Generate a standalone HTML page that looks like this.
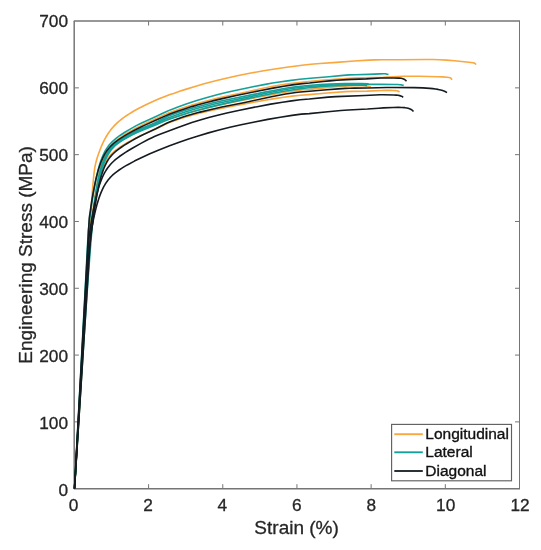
<!DOCTYPE html>
<html lang="en"><head><meta charset="utf-8"><title>Engineering Stress vs Strain</title>
<style>html,body{margin:0;padding:0;background:#fff}body{width:541px;height:550px;overflow:hidden}svg{display:block}</style>
</head><body>
<svg width="541" height="550" viewBox="0 0 541 550">
<rect x="0" y="0" width="541" height="550" fill="#ffffff"/>
<g stroke="#757575" fill="none">
<line x1="73.80" y1="21.05" x2="520.00" y2="21.05" stroke-width="1.5"/>
<line x1="73.80" y1="488.85" x2="520.00" y2="488.85" stroke-width="1.5"/>
<line x1="74.2" y1="21.05" x2="74.2" y2="488.7" stroke-width="1.5"/>
<line x1="519.5" y1="21.05" x2="519.5" y2="488.7" stroke-width="1.0"/>
</g>
<g stroke="#757575" stroke-width="1" fill="none">
<line x1="148.58" y1="488.7" x2="148.58" y2="484.2"/>
<line x1="148.58" y1="21.05" x2="148.58" y2="25.55"/>
<line x1="222.77" y1="488.7" x2="222.77" y2="484.2"/>
<line x1="222.77" y1="21.05" x2="222.77" y2="25.55"/>
<line x1="296.95" y1="488.7" x2="296.95" y2="484.2"/>
<line x1="296.95" y1="21.05" x2="296.95" y2="25.55"/>
<line x1="371.13" y1="488.7" x2="371.13" y2="484.2"/>
<line x1="371.13" y1="21.05" x2="371.13" y2="25.55"/>
<line x1="445.32" y1="488.7" x2="445.32" y2="484.2"/>
<line x1="445.32" y1="21.05" x2="445.32" y2="25.55"/>
<line x1="74.4" y1="421.89" x2="78.9" y2="421.89"/>
<line x1="519.5" y1="421.89" x2="515.0" y2="421.89"/>
<line x1="74.4" y1="355.09" x2="78.9" y2="355.09"/>
<line x1="519.5" y1="355.09" x2="515.0" y2="355.09"/>
<line x1="74.4" y1="288.28" x2="78.9" y2="288.28"/>
<line x1="519.5" y1="288.28" x2="515.0" y2="288.28"/>
<line x1="74.4" y1="221.47" x2="78.9" y2="221.47"/>
<line x1="519.5" y1="221.47" x2="515.0" y2="221.47"/>
<line x1="74.4" y1="154.66" x2="78.9" y2="154.66"/>
<line x1="519.5" y1="154.66" x2="515.0" y2="154.66"/>
<line x1="74.4" y1="87.86" x2="78.9" y2="87.86"/>
<line x1="519.5" y1="87.86" x2="515.0" y2="87.86"/>
</g>
<g fill="none" stroke-width="1.6" stroke-linejoin="round" stroke-linecap="butt"><path d="M74.50,488.60 L88.34,250.00 L90.18,221.78 L91.69,200.18 L92.85,185.27 L93.82,175.11 L94.31,171.01 L94.80,167.70 L95.35,164.82 L96.02,161.95 L96.97,158.59 L98.29,154.51 L99.66,150.67 L101.16,146.86 L102.57,143.65 L104.02,140.62 L105.54,137.77 L107.18,134.99 L108.81,132.51 L110.57,130.10 L112.46,127.77 L114.41,125.61 L116.42,123.59 L118.56,121.64 L120.83,119.75 L123.30,117.85 L125.97,115.96 L128.82,114.09 L131.85,112.23 L135.22,110.29 L138.91,108.28 L142.94,106.21 L146.95,104.25 L151.30,102.22 L155.64,100.29 L160.31,98.32 L164.97,96.43 L169.97,94.51 L173.62,93.43 L179.60,91.36 L185.57,89.38 L194.19,86.70 L204.11,83.84 L215.67,80.79 L227.21,77.99 L238.41,75.53 L250.91,73.06 L263.71,70.78 L274.87,68.98 L286.67,67.25 L304.03,64.99 L310.90,64.21 L320.06,63.45 L336.40,62.36 L354.37,61.07 L368.73,60.17 L374.93,59.89 L382.43,59.78 L399.39,59.81 L425.47,59.48 L432.97,59.53 L439.48,59.75 L446.65,60.15 L454.47,60.71 L459.35,61.18 L471.08,62.45 L473.03,62.77 L474.34,63.12 L474.99,63.52 L476.20,64.50" stroke="#f9a73e"/>
<path d="M74.50,488.60 L87.07,264.07 L87.99,253.82 L89.50,239.29 L90.76,227.91 L92.01,217.51 L93.20,208.25 L94.44,199.45 L95.60,191.89 L96.81,184.85 L98.04,178.39 L99.32,172.58 L100.53,167.72 L101.87,163.12 L103.24,159.11 L104.65,155.64 L106.18,152.50 L107.82,149.69 L109.58,147.18 L111.60,144.78 L113.46,142.91 L115.52,141.09 L117.85,139.25 L120.53,137.35 L123.68,135.27 L127.34,133.02 L131.37,130.67 L135.74,128.26 L139.43,126.35 L143.78,124.25 L163.47,115.26 L169.13,112.84 L176.11,110.19 L184.08,107.42 L192.69,104.71 L201.63,102.15 L211.21,99.67 L218.80,97.85 L227.04,96.01 L245.15,92.23 L264.20,88.05 L271.42,86.59 L278.63,85.31 L288.13,83.91 L296.98,82.75 L306.14,81.74 L318.90,80.52 L334.26,79.27 L345.70,78.46 L354.19,78.04 L370.51,77.59 L383.23,77.38 L387.47,77.16 L397.58,76.52 L403.12,76.29 L410.30,76.20 L419.10,76.29 L438.00,76.69 L442.56,76.88 L447.12,77.20 L448.75,77.43 L450.38,77.83 L450.70,78.03 L451.03,78.36 L452.10,79.80" stroke="#f9a73e"/>
<path d="M74.50,488.60 L89.36,250.77 L91.87,228.99 L93.08,219.41 L94.27,210.72 L95.42,202.96 L96.62,195.60 L97.76,189.36 L98.92,183.60 L100.13,178.40 L101.28,174.07 L102.46,170.20 L103.77,166.56 L105.11,163.42 L106.57,160.57 L108.15,158.03 L109.84,155.77 L111.30,154.13 L112.95,152.49 L114.74,150.94 L116.79,149.34 L119.12,147.70 L121.87,145.91 L124.96,144.03 L128.44,142.02 L134.50,138.72 L139.20,136.35 L144.57,133.88 L155.28,129.23 L163.97,124.95 L166.97,123.55 L169.96,122.31 L175.95,120.17 L181.60,118.31 L187.58,116.48 L193.55,114.80 L199.51,113.23 L205.80,111.70 L212.41,110.19 L221.98,108.18 L233.19,105.98 L251.28,102.62 L264.75,100.25 L274.59,98.64 L283.77,97.28 L292.29,96.16 L300.48,95.25 L308.99,94.59 L327.30,93.01 L345.59,91.66 L351.80,91.41 L367.14,91.12 L381.49,90.44 L385.41,90.38 L390.63,90.41 L393.24,90.49 L395.52,90.65 L396.82,90.81 L398.13,91.14 L398.78,91.47 L399.50,92.10" stroke="#f9a73e"/>
<path d="M74.50,488.60 L89.44,243.75 L91.91,223.36 L93.12,214.28 L94.32,205.96 L95.56,198.01 L96.72,191.25 L97.92,184.89 L99.06,179.41 L100.25,174.33 L101.48,169.68 L102.75,165.48 L104.05,161.73 L105.40,158.41 L106.87,155.34 L108.39,152.67 L110.09,150.14 L111.19,148.73 L112.43,147.32 L113.65,146.06 L115.01,144.80 L116.50,143.54 L118.13,142.30 L121.79,139.85 L126.26,137.25 L131.63,134.43 L138.67,131.06 L146.02,127.73 L152.36,125.06 L159.36,122.33 L167.01,119.54 L174.65,116.95 L181.95,114.66 L189.57,112.44 L197.51,110.30 L206.11,108.14 L216.68,105.69 L228.22,103.20 L238.76,101.05 L263.76,96.10 L274.28,94.13 L283.47,92.54 L292.00,91.20 L299.87,90.12 L302.82,89.82 L309.70,89.33 L335.89,86.81 L344.07,86.16 L349.63,85.85 L353.56,85.73 L357.48,85.70 L361.40,85.78 L365.32,85.96 L366.63,86.06 L367.61,86.22 L371.00,87.10" stroke="#f9a73e"/>
<path d="M74.50,488.60 L88.30,230.65 L90.54,212.56 L91.64,204.59 L92.76,197.12 L93.86,190.44 L95.01,184.04 L96.12,178.50 L97.27,173.33 L98.47,168.56 L99.63,164.49 L100.84,160.76 L102.18,157.20 L103.57,154.03 L105.00,151.22 L106.56,148.61 L108.24,146.21 L109.32,144.84 L110.55,143.44 L111.83,142.09 L113.18,140.80 L116.30,138.17 L119.95,135.48 L124.87,132.25 L130.58,128.83 L136.28,125.65 L141.63,122.98 L154.32,117.25 L163.32,112.95 L166.65,111.42 L170.30,109.88 L177.28,107.20 L186.89,103.78 L196.82,100.55 L207.07,97.52 L217.96,94.60 L227.19,92.34 L236.41,90.26 L254.16,86.55 L265.33,84.35 L272.55,83.07 L279.43,81.98 L289.26,80.63 L299.74,79.33 L310.54,78.23 L328.85,76.70 L343.23,75.35 L349.44,74.91 L354.99,74.68 L368.70,74.34 L379.47,73.91 L384.04,73.80 L385.34,73.81 L385.99,73.90 L388.50,74.60" stroke="#16a09a"/>
<path d="M74.50,488.60 L81.34,379.75 L84.11,337.20 L86.59,300.35 L88.67,270.92 L90.47,247.15 L92.06,227.99 L93.50,212.68 L94.91,200.04 L96.32,189.79 L97.05,185.27 L97.84,180.96 L98.68,176.88 L99.58,173.04 L100.53,169.43 L101.54,166.06 L102.60,162.93 L103.79,159.84 L104.96,157.21 L106.18,154.80 L107.52,152.49 L108.93,150.41 L110.89,147.94 L113.12,145.60 L115.68,143.33 L118.65,141.08 L122.23,138.68 L126.57,136.07 L131.95,133.09 L136.98,130.49 L142.34,128.06 L151.70,124.18 L155.03,122.74 L158.04,121.25 L165.70,117.20 L167.69,116.26 L169.69,115.42 L176.67,112.91 L184.30,110.41 L191.92,108.15 L200.20,105.93 L210.11,103.51 L221.00,101.09 L264.76,92.15 L273.62,90.43 L281.49,89.01 L288.70,87.83 L295.58,86.85 L303.12,85.96 L311.30,85.21 L320.13,84.60 L329.94,84.11 L344.65,83.61 L351.84,83.48 L360.98,83.52 L368.70,83.80" stroke="#16a09a"/>
<path d="M74.50,488.60 L86.01,291.82 L88.12,258.32 L88.64,251.44 L89.17,245.97 L90.38,235.16 L91.65,224.49 L92.89,214.74 L94.10,205.99 L95.31,197.96 L96.46,191.04 L97.65,184.58 L98.87,178.65 L100.13,173.29 L101.34,168.81 L102.59,164.79 L103.95,161.03 L105.36,157.77 L106.88,154.81 L108.52,152.15 L110.28,149.79 L111.80,148.05 L113.45,146.41 L115.30,144.79 L117.35,143.18 L119.74,141.49 L122.41,139.77 L125.67,137.81 L129.04,135.90 L135.08,132.68 L139.10,130.73 L143.45,128.81 L154.81,124.04 L163.81,119.83 L167.14,118.35 L171.46,116.66 L178.44,114.20 L185.08,112.03 L191.70,110.03 L198.66,108.07 L205.93,106.17 L213.53,104.33 L221.45,102.53 L231.33,100.44 L247.79,97.13 L268.48,92.78 L279.96,90.54 L287.17,89.28 L293.72,88.29 L299.62,87.54 L307.15,86.77 L316.63,85.98 L327.10,85.30 L340.17,84.69 L350.30,84.37 L381.31,84.38 L394.36,84.46 L397.62,84.56 L400.23,84.72 L401.53,84.91 L403.70,85.40" stroke="#16a09a"/>
<path d="M74.50,488.60 L88.90,244.54 L91.43,224.51 L92.65,215.76 L93.89,207.54 L95.15,199.82 L96.36,193.02 L97.61,186.61 L98.82,181.06 L100.07,175.91 L101.36,171.17 L102.61,167.13 L103.99,163.24 L105.41,159.78 L106.95,156.56 L108.53,153.75 L110.23,151.19 L112.27,148.62 L114.58,146.22 L117.14,143.99 L120.10,141.81 L123.61,139.58 L127.83,137.21 L132.87,134.64 L138.22,132.11 L144.23,129.54 L155.57,124.95 L165.23,120.85 L168.55,119.53 L171.54,118.45 L179.84,115.64 L188.79,112.84 L198.06,110.17 L207.65,107.62 L217.89,105.10 L228.78,102.61 L264.99,94.93 L274.51,93.03 L282.72,91.50 L290.59,90.17 L297.81,89.10 L306.66,88.00 L315.83,87.09 L325.98,86.32 L337.11,85.67 L347.57,85.20 L355.09,85.06 L361.30,85.14 L363.92,85.31 L367.00,85.60" stroke="#16a09a"/>
<path d="M74.50,488.60 L89.22,218.47 L91.32,203.94 L92.36,197.50 L93.40,191.56 L94.46,186.04 L95.55,180.88 L96.61,176.36 L97.72,172.10 L98.88,168.13 L100.01,164.70 L101.20,161.52 L102.51,158.44 L103.88,155.67 L105.30,153.18 L106.84,150.83 L108.44,148.73 L110.03,146.91 L111.81,145.09 L113.73,143.36 L115.85,141.65 L118.24,139.89 L120.90,138.09 L124.04,136.13 L127.40,134.14 L134.44,130.26 L140.46,127.23 L145.47,124.89 L155.15,120.59 L165.47,115.88 L169.79,114.08 L177.42,111.26 L184.39,108.90 L191.67,106.61 L198.95,104.50 L206.55,102.45 L214.81,100.39 L223.38,98.38 L236.22,95.59 L260.88,90.50 L273.02,88.14 L283.84,86.23 L292.36,84.91 L300.22,83.87 L309.39,83.07 L323.13,81.50 L329.67,80.83 L336.86,80.24 L346.66,79.60 L351.89,79.37 L366.25,78.90 L380.94,78.05 L384.86,77.98 L393.66,78.01 L398.88,78.14 L401.17,78.32 L402.14,78.50 L403.45,78.93 L404.75,79.54 L405.41,80.06 L406.50,81.20" stroke="#141b21"/>
<path d="M74.50,488.60 L88.16,260.93 L89.62,247.53 L90.92,236.38 L92.22,225.98 L93.49,216.57 L94.73,208.12 L95.92,200.78 L97.14,193.95 L98.39,187.69 L99.67,182.05 L100.90,177.33 L102.25,172.87 L103.63,168.97 L105.05,165.59 L106.58,162.52 L108.31,159.65 L110.15,157.11 L112.18,154.77 L113.97,152.98 L116.04,151.16 L118.31,149.37 L120.92,147.49 L124.01,145.42 L127.50,143.23 L131.55,140.82 L135.59,138.53 L138.95,136.74 L142.98,134.74 L155.71,128.78 L164.06,124.45 L167.06,122.97 L170.73,121.41 L177.39,118.92 L184.37,116.57 L192.00,114.26 L199.96,112.10 L208.89,109.92 L221.78,107.09 L244.84,102.41 L270.15,97.00 L280.32,94.99 L285.56,94.06 L290.81,93.21 L295.72,92.52 L300.30,91.97 L309.47,91.25 L326.81,89.73 L338.25,88.85 L345.43,88.37 L349.68,88.19 L354.25,88.11 L367.96,88.05 L386.56,87.47 L392.43,87.45 L414.28,87.59 L422.75,87.87 L429.92,88.33 L432.85,88.62 L435.46,88.97 L438.07,89.41 L440.67,89.96 L442.63,90.53 L444.58,91.28 L445.56,91.75 L447.00,92.60" stroke="#141b21"/>
<path d="M74.50,488.60 L88.49,240.94 L89.65,232.63 L90.78,225.09 L91.91,218.13 L93.06,211.61 L94.24,205.52 L95.34,200.33 L96.58,195.06 L97.79,190.51 L99.04,186.30 L100.25,182.68 L101.60,179.15 L102.99,175.97 L104.51,172.96 L106.08,170.28 L107.78,167.78 L109.60,165.45 L111.04,163.81 L112.54,162.27 L114.18,160.72 L116.03,159.13 L118.01,157.56 L120.12,155.99 L125.11,152.61 L128.48,150.50 L131.85,148.50 L140.91,143.41 L148.62,139.33 L151.96,137.67 L154.97,136.26 L159.31,134.47 L167.97,131.29 L177.95,127.44 L184.92,124.95 L191.88,122.61 L200.16,120.03 L208.76,117.55 L217.67,115.20 L226.90,112.96 L238.43,110.42 L257.17,106.66 L270.63,104.16 L282.44,102.19 L291.61,100.85 L300.12,99.79 L309.29,99.07 L328.25,97.15 L331.85,96.86 L335.77,96.65 L364.83,95.54 L380.17,94.79 L383.11,94.74 L393.87,95.01 L396.15,95.13 L398.11,95.31 L399.74,95.62 L401.37,96.15 L402.02,96.46 L403.20,97.30" stroke="#141b21"/>
<path d="M74.50,488.60 L90.65,234.29 L92.69,223.11 L93.72,218.10 L94.77,213.36 L95.79,209.13 L96.85,205.09 L97.98,201.23 L99.07,197.83 L100.22,194.63 L101.42,191.63 L102.68,188.85 L103.91,186.43 L105.28,184.06 L106.70,181.90 L108.25,179.82 L109.85,177.92 L111.44,176.25 L113.09,174.69 L114.95,173.11 L116.94,171.56 L119.13,170.00 L121.59,168.37 L124.33,166.67 L127.33,164.93 L134.40,161.09 L141.80,157.42 L149.84,153.76 L158.87,149.96 L169.55,145.77 L179.21,142.19 L188.52,138.99 L198.15,135.92 L208.42,132.89 L219.00,130.02 L229.91,127.31 L241.12,124.75 L254.63,121.91 L267.79,119.36 L280.27,117.18 L292.09,115.37 L301.27,114.16 L309.14,113.58 L327.81,111.69 L340.90,110.53 L348.42,110.04 L367.38,109.07 L378.81,108.18 L383.39,107.90 L393.18,107.46 L398.40,107.37 L401.67,107.47 L404.93,107.67 L406.89,107.92 L408.19,108.22 L409.50,108.68 L411.13,109.47 L412.11,110.18 L413.50,111.50" stroke="#141b21"/></g>
<g font-family="'Liberation Sans', Arial, sans-serif" font-size="17.25px" fill="#262626" stroke="#262626" stroke-width="0.3">
<text x="73.50" y="510.8" text-anchor="middle">0</text>
<text x="147.94" y="510.8" text-anchor="middle">2</text>
<text x="222.38" y="510.8" text-anchor="middle">4</text>
<text x="296.82" y="510.8" text-anchor="middle">6</text>
<text x="371.26" y="510.8" text-anchor="middle">8</text>
<text x="445.70" y="510.8" text-anchor="middle">10</text>
<text x="520.14" y="510.8" text-anchor="middle">12</text>
<text x="68.0" y="496.01" text-anchor="end">0</text>
<text x="68.0" y="428.98" text-anchor="end">100</text>
<text x="68.0" y="361.95" text-anchor="end">200</text>
<text x="68.0" y="294.92" text-anchor="end">300</text>
<text x="68.0" y="227.89" text-anchor="end">400</text>
<text x="68.0" y="160.86" text-anchor="end">500</text>
<text x="68.0" y="93.83" text-anchor="end">600</text>
<text x="68.0" y="26.80" text-anchor="end">700</text>
</g>
<g font-family="'Liberation Sans', Arial, sans-serif" font-size="19.0px" fill="#262626" stroke="#262626" stroke-width="0.3">
<text x="296.6" y="533.6" text-anchor="middle">Strain (%)</text>
<text transform="translate(32.3,254.88) rotate(-90)" text-anchor="middle">Engineering Stress (MPa)</text>
</g>
<rect x="391.6" y="424.4" width="119.9" height="56.4" fill="#fff" stroke="#606060" stroke-width="1.15"/>
<g stroke-width="1.9" fill="none">
<line x1="394.3" y1="434.2" x2="422.8" y2="434.2" stroke="#f9a73e"/>
<line x1="394.3" y1="452.3" x2="422.8" y2="452.3" stroke="#16a09a"/>
<line x1="394.3" y1="471.0" x2="422.8" y2="471.0" stroke="#1f282e"/>
</g>
<g font-family="'Liberation Sans', Arial, sans-serif" font-size="15.5px" fill="#111" stroke="#111" stroke-width="0.35">
<text x="425.3" y="438.80">Longitudinal</text>
<text x="425.3" y="457.10">Lateral</text>
<text x="425.3" y="475.60">Diagonal</text>
</g>
</svg>
</body></html>
